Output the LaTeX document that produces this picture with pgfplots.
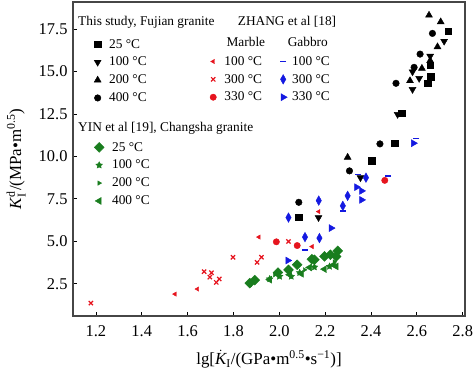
\documentclass[border=0pt]{standalone}
\usepackage{fontspec}
\setmainfont{Liberation Serif}
\usepackage{amsmath}
\usepackage{pgfplots}
\pgfplotsset{compat=1.18}
\usetikzlibrary{plotmarks}
\definecolor{mred}{RGB}{230,20,30}
\definecolor{mblue}{RGB}{20,25,225}
\definecolor{mgreen}{RGB}{25,125,30}
\definecolor{axgray}{RGB}{70,70,70}
\pgfdeclareplotmark{fstar}{%
  \pgfpathmoveto{\pgfpointpolar{90}{\pgfplotmarksize}}%
  \pgfpathlineto{\pgfpointpolar{126}{0.5\pgfplotmarksize}}%
  \pgfpathlineto{\pgfpointpolar{162}{\pgfplotmarksize}}%
  \pgfpathlineto{\pgfpointpolar{198}{0.5\pgfplotmarksize}}%
  \pgfpathlineto{\pgfpointpolar{234}{\pgfplotmarksize}}%
  \pgfpathlineto{\pgfpointpolar{270}{0.5\pgfplotmarksize}}%
  \pgfpathlineto{\pgfpointpolar{306}{\pgfplotmarksize}}%
  \pgfpathlineto{\pgfpointpolar{342}{0.5\pgfplotmarksize}}%
  \pgfpathlineto{\pgfpointpolar{18}{\pgfplotmarksize}}%
  \pgfpathlineto{\pgfpointpolar{54}{0.5\pgfplotmarksize}}%
  \pgfpathclose\pgfusepathqfillstroke}
\pgfplotsset{
  base/.style={at={(0,0)},anchor=south west, scale only axis,
    width=392bp, height=314bp, xmin=1.1, xmax=2.81, ymin=0.6, ymax=19.1, clip=false},
  leg/.style={legend style={draw=none, fill=none, inner sep=0pt,
    font=\fontsize{13.4}{16}\selectfont, row sep=3.5bp,
    /tikz/every odd column/.append style={column sep=6bp}},
    legend cell align=left},
}
\newcommand{\hdr}{\fontsize{13.4}{16}\selectfont}
\begin{document}
\begin{tikzpicture}
\path[use as bounding box] (-73bp,-54bp) rectangle (401bp,316bp);
% main axis: this study
\begin{axis}[base, leg,
  axis line style={axgray, line width=1.2pt},
  tick style={black, line width=0.8pt}, major tick length=4.5bp,
  tick align=inside, xtick pos=bottom, ytick pos=left,
  xtick={1.2,1.4,1.6,1.8,2.0,2.2,2.4,2.6,2.8},
  ytick={2.5,5,7.5,10,12.5,15,17.5},
  ticklabel style={font=\fontsize{16.5}{16.5}\selectfont},
  xticklabel style={yshift=-6bp},
  yticklabel style={xshift=-2bp},
  /pgf/number format/.cd, fixed, fixed zerofill, precision=1, assume math mode=true, /pgfplots/.cd,
  xlabel={lg[$\dot{\textit{K}}_{\text{I}}$/(GPa•m$^{\text{0.5}}$•s$^{\text{−1}}$)]},
  ylabel={\textit{K}$^{\text{d}}_{\text{I}}$/(MPa•m$^{\text{0.5}}$)},
  label style={font=\fontsize{17}{17}\selectfont},
  xlabel style={at={(axis description cs:0.5,-0.138)}, anchor=center},
  ylabel style={at={(axis description cs:-0.145,0.5)}, anchor=center},
  legend style={at={(axis description cs:0.0536,0.8885)}, anchor=north west},
]
\addplot[only marks, mark=square*, mark size=3.3bp, black] coordinates {
(2.535,12.54) (2.504,10.78) (2.403,9.75) (2.084,6.42) (2.736,17.38) (2.658,15.38) (2.661,14.69) (2.646,14.31)};
\addlegendentry{25 °C}
\addplot[only marks, mark=triangle*, mark size=4bp, mark options={rotate=180}, black] coordinates {
(2.516,12.48) (2.354,8.75) (2.171,6.40) (2.719,16.79) (2.658,15.91) (2.610,14.60) (2.581,14.99) (2.581,13.95)};
\addlegendentry{100 °C}
\addplot[only marks, mark=triangle*, mark size=4bp, black] coordinates {
(2.653,18.32) (2.704,17.93) (2.690,16.46) (2.622,15.19) (2.570,14.46) (2.298,9.95) (2.658,15.65)};
\addlegendentry{200 °C}
\addplot[only marks, mark=*, mark size=3.3bp, black] coordinates {
(2.668,17.25) (2.614,16.03) (2.588,15.25) (2.509,14.31) (2.439,10.74) (2.306,9.15) (2.085,7.30)};
\addlegendentry{400 °C}
\node[anchor=west, inner sep=0pt, font=\hdr] at (axis description cs:0.0128,0.936) {This study, Fujian granite};
\node[anchor=center, inner sep=0pt, font=\hdr] at (axis description cs:0.546,0.936) {ZHANG et al [18]};
\node[anchor=center, inner sep=0pt, font=\hdr] at (axis description cs:0.441,0.873) {Marble};
\node[anchor=center, inner sep=0pt, font=\hdr] at (axis description cs:0.599,0.873) {Gabbro};
\node[anchor=west, inner sep=0pt, font=\hdr] at (axis description cs:0.0128,0.599) {YIN et al [19], Changsha granite};
\end{axis}
% marble
\begin{axis}[base, leg, hide axis,
  legend style={at={(axis description cs:0.349,0.834)}, anchor=north west}]
\addplot[only marks, mark=triangle*, mark size=2.5bp, mark options={rotate=90}, mred] coordinates {
(1.545,1.89) (1.643,2.19) (1.911,5.25) (2.143,4.69) (2.172,6.75)};
\addlegendentry{100 °C}
\addplot[only marks, mark=x, mark size=3bp, mark options={line width=1.2pt}, mred] coordinates {
(1.178,1.36) (1.672,3.21) (1.704,3.15) (1.697,2.89) (1.738,2.78) (1.725,2.58) (1.798,4.06) (1.903,3.76) (1.922,4.06) (2.040,4.99)};
\addlegendentry{300 °C}
\addplot[only marks, mark=*, mark size=3.2bp, mred] coordinates {
(1.987,4.97) (2.078,4.75) (2.460,8.59)};
\addlegendentry{330 °C}
\end{axis}
% gabbro
\begin{axis}[base, leg, hide axis,
  legend style={at={(axis description cs:0.528,0.834)}, anchor=north west,
    /tikz/every odd column/.append style={column sep=3bp}}]
\addplot[only marks, mark=-, mark size=3bp, mark options={line width=1.5pt}, mblue] coordinates {
(2.598,11.07) (2.342,8.95) (2.475,8.85) (2.277,6.79) (2.110,4.50)};
\addlegendentry{100 °C}
\addplot[only marks, mark=diamond*, mark size=4.8bp, mark options={xscale=0.75}, mblue] coordinates {
(2.378,8.75) (2.298,7.68) (2.277,7.09) (2.172,7.40) (2.040,6.40) (2.112,5.25) (2.175,5.19)};
\addlegendentry{300 °C}
\addplot[only marks, mark=triangle*, mark size=4bp, mark options={rotate=-90}, mblue] coordinates {
(2.585,10.78) (2.337,8.19) (2.359,7.97) (2.359,7.44) (2.226,5.78) (2.037,3.87)};
\addlegendentry{330 °C}
\end{axis}
% YIN
\begin{axis}[base, leg, hide axis,
  legend style={at={(axis description cs:0.0536,0.5605)}, anchor=north west}]
\addplot[only marks, mark=square*, mark size=3.5bp, mark options={rotate=45}, mgreen] coordinates {
(1.871,2.54) (1.893,2.71) (1.994,3.16) (2.040,3.32) (2.078,3.62) (2.142,3.95) (2.197,4.11) (2.223,4.21) (2.255,4.44) (2.248,4.11) (2.153,3.91)};
\addlegendentry{25 °C}
\addplot[only marks, mark=fstar, mark size=3.5bp, mgreen] coordinates {
(1.958,2.78) (2.001,2.93) (2.052,2.93) (2.153,3.48) (2.219,3.52) (2.089,3.15)};
\addlegendentry{100 °C}
\addplot[only marks, mark=triangle*, mark size=2.5bp, mark options={rotate=-90}, mgreen] coordinates {
(1.980,3.03) (2.110,3.32) (2.240,3.79)};
\addlegendentry{200 °C}
\addplot[only marks, mark=triangle*, mark size=4bp, mark options={rotate=90}, mgreen] coordinates {
(1.871,2.53) (1.958,2.74) (2.045,3.03) (2.096,3.09) (2.132,3.46) (2.197,3.36) (2.237,3.62) (2.248,3.52)};
\addlegendentry{400 °C}
\end{axis}
\end{tikzpicture}
\end{document}
